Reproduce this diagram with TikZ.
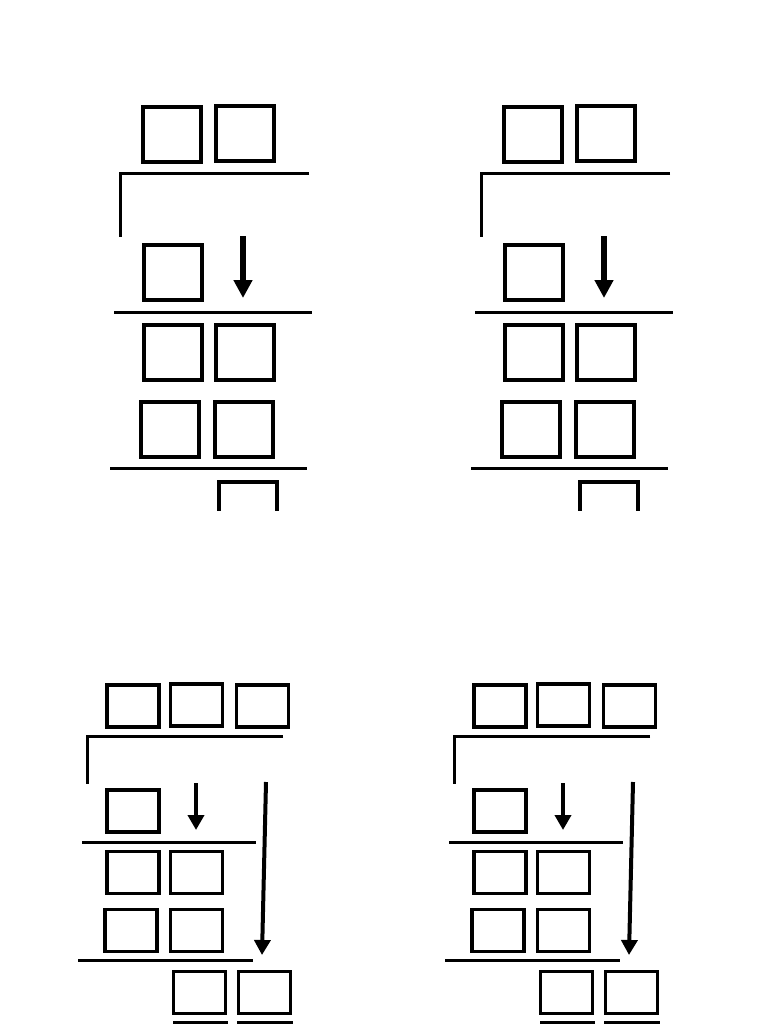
\documentclass[tikz,border=0pt]{standalone}
\usetikzlibrary{arrows.meta}
\tikzset{
  bigbox/.style={draw,rectangle,line width=4pt,inner sep=0pt,minimum width=58pt,minimum height=55pt},
  smallbox/.style={draw,rectangle,line width=3.5pt,inner sep=0pt,minimum width=52pt,minimum height=42pt},
  divline/.style={line width=3pt},
  bigarrow/.style={line width=5.5pt,-{Triangle[width=18pt,length=18pt]}},
  smallarrow/.style={line width=4pt,-{Triangle[width=16pt,length=15pt]}}
}
\begin{document}
\begin{tikzpicture}[x=1pt,y=-1pt]
\useasboundingbox[fill=white] (0,0) rectangle (768,1024);
% two-digit quotient, upper pair
\foreach \dx/\n in {0/a,361/b}{
  \begin{scope}[xshift=\dx]
    \node [bigbox] (\n1) at (171.5,134.5) {};
    \node [bigbox] (\n2) at (244.5,134) {};
    \draw [divline] (309,174) -- (120,174) -- (120,237);
    \node [bigbox] (\n3) at (172.5,272.5) {};
    \coordinate (\n from) at (243,236);
    \coordinate (\n to) at (243,298);
    \draw [bigarrow] (\n from) -- (\n to);
    \draw [divline] (114,312) -- (312,312);
    \node [bigbox] (\n4) at (172.5,352.5) {};
    \node [bigbox] (\n5) at (244.5,352.5) {};
    \node [bigbox] (\n6) at (169.5,429.5) {};
    \node [bigbox] (\n7) at (244,429.5) {};
    \draw [divline] (110,468) -- (307,468);
    \begin{scope}
      \clip (0,0) rectangle (768,510);
      \node [bigbox] (\n8) at (248,509) {};
    \end{scope}
  \end{scope}
}
% three-digit dividend, lower pair
\foreach \dx/\n in {0/c,367/d}{
  \begin{scope}[xshift=\dx]
    \node [smallbox] (\n1) at (133,706) {};
    \node [smallbox] (\n2) at (196.5,705) {};
    \node [smallbox] (\n3) at (262.5,706) {};
    \draw [divline] (283,736) -- (87,736) -- (87,784);
    \node [smallbox] (\n4) at (133,811) {};
    \coordinate (\n from) at (196,783);
    \coordinate (\n to) at (196,830);
    \draw [smallarrow] (\n from) -- (\n to);
    \coordinate (\n longfrom) at (266,782);
    \coordinate (\n longto) at (262,955);
    \draw [smallarrow] (\n longfrom) -- (\n longto);
    \draw [divline] (82,842) -- (256,842);
    \node [smallbox] (\n5) at (133,872.5) {};
    \node [smallbox] (\n6) at (196.5,872.5) {};
    \node [smallbox] (\n7) at (131,930.5) {};
    \node [smallbox] (\n8) at (196.5,930.5) {};
    \draw [divline] (78,960) -- (253,960);
    \node [smallbox] (\n9) at (199.5,992.5) {};
    \node [smallbox] (\n10) at (264.5,992.5) {};
    \node [smallbox] (\n11) at (200.5,1044) {};
    \node [smallbox] (\n12) at (265,1044) {};
  \end{scope}
}
\end{tikzpicture}
\end{document}
